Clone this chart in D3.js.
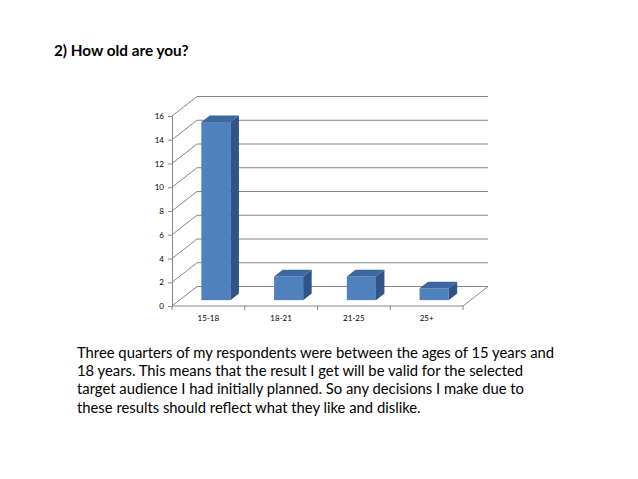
<!DOCTYPE html>
<html>
<head>
<meta charset="utf-8">
<script src="https://cdn.jsdelivr.net/npm/d3@7"></script>
<style>
  html, body { margin: 0; padding: 0; background: #fff; }
  svg { display: block; }
</style>
</head>
<body>
<script>
// chart data
const categories = ['15-18', '18-21', '21-25', '25+'];
const counts = [15, 2, 2, 1];
const yTicks = [0, 2, 4, 6, 8, 10, 12, 14, 16];

const title = '2) How old are you?';
const bodyLines = [
  'Three quarters of my respondents were between the ages of 15 years and',
  '18 years. This means that the result I get will be valid for the selected',
  'target audience I had initially planned. So any decisions I make due to',
  'these results should reflect what they like and dislike.',
];

const W = 638, H = 479;
const font = 'Lato, "Open Sans", sans-serif';

const svg = d3.select('body')
  .append('svg')
    .attr('width', W)
    .attr('height', H);

// front plane scales
const x = d3.scaleBand()
  .domain(categories)
  .range([172, 463])
  .padding(0);

const y = d3.scaleLinear()
  .domain([0, 16])
  .range([306, 116]);

// depth of the 3d walls
const depthX = 25, depthY = -19.5;
const gridColor = '#868686';

const grid = svg.append('g').attr('class', 'grid');

// back wall + left wall gridlines
yTicks.forEach((t) => {
  const yy = y(t);
  grid.append('line')
    .attr('x1', x.range()[0]).attr('y1', yy)
    .attr('x2', x.range()[0] + depthX).attr('y2', yy + depthY)
    .attr('stroke', gridColor).attr('stroke-width', 1);
  grid.append('line')
    .attr('x1', x.range()[0] + depthX).attr('y1', yy + depthY)
    .attr('x2', x.range()[1] + depthX).attr('y2', yy + depthY)
    .attr('stroke', gridColor).attr('stroke-width', 1);
});

// floor front and right edge
grid.append('line')
  .attr('x1', x.range()[0]).attr('y1', y(0))
  .attr('x2', x.range()[1]).attr('y2', y(0))
  .attr('stroke', gridColor);
grid.append('line')
  .attr('x1', x.range()[1]).attr('y1', y(0))
  .attr('x2', x.range()[1] + depthX).attr('y2', y(0) + depthY)
  .attr('stroke', gridColor);

// y axis
const yAxis = d3.axisLeft(y)
  .tickValues(yTicks)
  .tickSize(4)
  .tickPadding(4);

svg.append('g')
  .attr('transform', `translate(${x.range()[0]},0)`)
  .call(yAxis)
  .call(g => g.select('.domain').attr('stroke', gridColor))
  .call(g => g.selectAll('.tick line').attr('stroke', gridColor))
  .call(g => g.selectAll('text')
    .attr('font-family', font)
    .attr('font-size', 8)
    .attr('fill', '#000'));

// x axis
const xAxis = d3.axisBottom(x)
  .tickSize(0)
  .tickPadding(9);

const xg = svg.append('g')
  .attr('transform', `translate(0,${y(0)})`)
  .call(xAxis);
xg.select('.domain').remove();
xg.selectAll('text')
  .attr('font-family', font)
  .attr('font-size', 8)
  .attr('fill', '#000');
// boundary ticks
xg.selectAll('.boundary')
  .data(categories.map(c => x(c)).concat([x.range()[1]]))
  .join('line')
    .attr('class', 'boundary')
    .attr('x1', d => d).attr('x2', d => d)
    .attr('y1', 0).attr('y2', 4)
    .attr('stroke', gridColor);

// bars
const f1 = 0.3, f2 = 0.64;       // front/back depth of the bars
const barW = x.bandwidth() * 0.4;
const ox1 = depthX * f1, oy1 = depthY * f1;
const bdx = depthX * (f2 - f1), bdy = depthY * (f2 - f1);

const bars = svg.append('g')
  .attr('class', 'bars')
  .selectAll('g')
  .data(categories.map((c, i) => ({ cat: c, value: counts[i] })))
  .join('g');

bars.each(function (d) {
  const g = d3.select(this);
  const x0 = x(d.cat) + (x.bandwidth() - barW) / 2 + ox1;
  const x1 = x0 + barW;
  const yb = y(0) + oy1;
  const yt = y(d.value) + oy1;

  // front face
  g.append('rect')
    .attr('x', x0).attr('y', yt)
    .attr('width', barW).attr('height', yb - yt)
    .attr('fill', '#4f81bd');

  // right side
  g.append('path')
    .attr('d', `M${x1},${yt}L${x1 + bdx},${yt + bdy}L${x1 + bdx},${yb + bdy}L${x1},${yb}Z`)
    .attr('fill', '#2f5487');

  // top face
  g.append('path')
    .attr('d', `M${x0},${yt}L${x0 + bdx},${yt + bdy}L${x1 + bdx},${yt + bdy}L${x1},${yt}Z`)
    .attr('fill', '#3c679f');
});

// title
svg.append('text')
  .attr('x', 54)
  .attr('y', 56)
  .attr('font-family', font)
  .attr('font-weight', 'bold')
  .attr('font-size', 15.3)
  .attr('fill', '#000')
  .text(title);

// commentary
svg.append('g')
  .selectAll('text')
  .data(bodyLines)
  .join('text')
    .attr('x', 77)
    .attr('y', (d, i) => 358 + i * 18.2)
    .attr('font-family', font)
    .attr('font-size', 14.8)
    .attr('fill', '#000')
    .text(d => d);
</script>
</body>
</html>
